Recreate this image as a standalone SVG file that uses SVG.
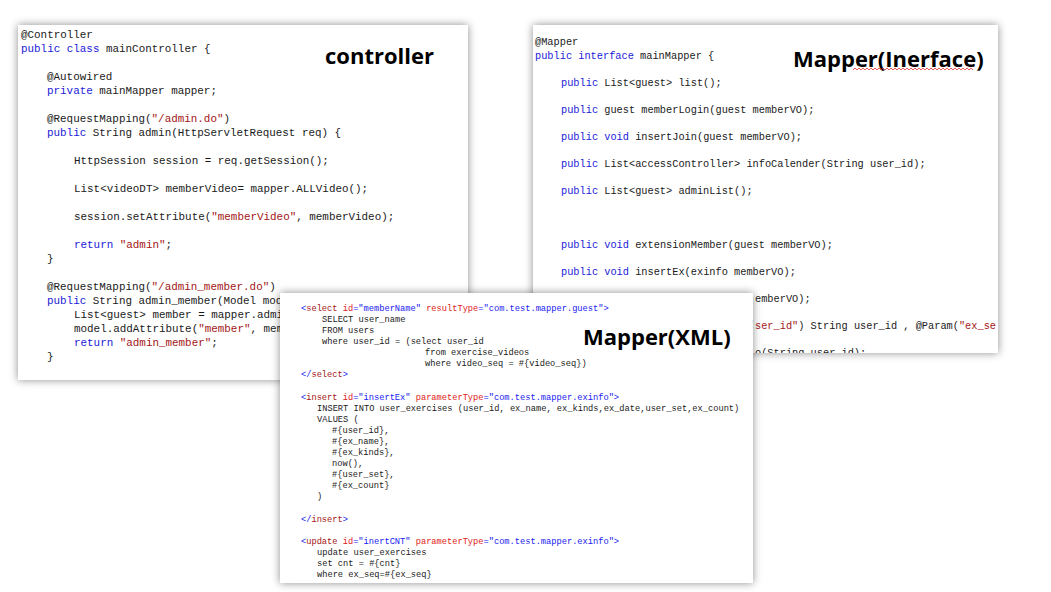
<svg xmlns="http://www.w3.org/2000/svg" width="1051" height="592" viewBox="0 0 1051 592">
<style>
.c{font-family:"Liberation Mono","DejaVu Sans Mono",monospace;fill:#1a1a1a}
.a{font-size:10.9px}.b{font-size:10.3px}.x{font-size:8.7px}
.k{fill:#1a1ad8}.s{fill:#a31515}.t{fill:#2020f0}.r{fill:#e02020}
.h{font-family:"Open Sans","Noto Sans",sans-serif;font-weight:bold;font-size:22px;fill:#000}
.p{fill:#fff;filter:url(#sh)}
</style>
<defs>
<filter id="sh" x="-10%" y="-10%" width="120%" height="120%"><feDropShadow dx="0" dy="0" stdDeviation="4" flood-color="#000" flood-opacity="0.45"/></filter>
<clipPath id="c1"><rect x="18" y="25" width="450" height="355"/></clipPath>
<clipPath id="c2"><rect x="533" y="25" width="465" height="328"/></clipPath>
<clipPath id="c3"><rect x="280" y="293" width="473" height="290"/></clipPath>
</defs>
<rect width="1051" height="592" fill="#fff"/>
<g id="controller">
<rect class="p" x="18" y="25" width="450" height="355"/>
<g clip-path="url(#c1)" class="c a">
<text x="21" y="38">@Controller</text>
<text x="21" y="52"><tspan class="k">public class</tspan> mainController {</text>
<text x="47" y="80">@Autowired</text>
<text x="47" y="94"><tspan class="k">private</tspan> mainMapper mapper;</text>
<text x="47" y="122">@RequestMapping(<tspan class="s">"/admin.do"</tspan>)</text>
<text x="47" y="136"><tspan class="k">public</tspan> String admin(HttpServletRequest req) {</text>
<text x="74" y="164">HttpSession session = req.getSession();</text>
<text x="74" y="192">List&lt;videoDT&gt; memberVideo= mapper.ALLVideo();</text>
<text x="74" y="220">session.setAttribute(<tspan class="s">"memberVideo"</tspan>, memberVideo);</text>
<text x="74" y="248"><tspan class="k">return</tspan> <tspan class="s">"admin"</tspan>;</text>
<text x="47" y="262">}</text>
<text x="47" y="290">@RequestMapping(<tspan class="s">"/admin_member.do"</tspan>)</text>
<text x="47" y="304"><tspan class="k">public</tspan> String admin_member(Model mod</text>
<text x="74" y="318">List&lt;guest&gt; member = mapper.admi</text>
<text x="74" y="332">model.addAttribute(<tspan class="s">"member"</tspan>, mem</text>
<text x="74" y="346"><tspan class="k">return</tspan> <tspan class="s">"admin_member"</tspan>;</text>
<text x="47" y="360">}</text>
</g>
<text class="h" x="325" y="64">controller</text>
</g>
<g id="mapper-interface">
<rect class="p" x="533" y="25" width="465" height="328"/>
<g clip-path="url(#c2)" class="c b">
<text x="535" y="45">@Mapper</text>
<text x="535" y="59"><tspan class="k">public interface</tspan> mainMapper {</text>
<text x="561" y="86"><tspan class="k">public</tspan> List&lt;guest&gt; list();</text>
<text x="561" y="113"><tspan class="k">public</tspan> guest memberLogin(guest memberVO);</text>
<text x="561" y="140"><tspan class="k">public void</tspan> insertJoin(guest memberVO);</text>
<text x="561" y="167"><tspan class="k">public</tspan> List&lt;accessController&gt; infoCalender(String user_id);</text>
<text x="561" y="194"><tspan class="k">public</tspan> List&lt;guest&gt; adminList();</text>
<text x="561" y="248"><tspan class="k">public void</tspan> extensionMember(guest memberVO);</text>
<text x="561" y="275"><tspan class="k">public void</tspan> insertEx(exinfo memberVO);</text>
<text x="755" y="302">emberVO);</text>
<text x="755" y="329"><tspan class="s">ser_id"</tspan>) String user_id , @Param(<tspan class="s">"ex_se</tspan></text>
<text x="755" y="356">o(String user_id);</text>
</g>
<text class="h" x="793" y="67">Mapper(Inerface)</text>
<path d="M853 70 l2 -2 l2 2 l2 -2 l2 2 l2 -2 l2 2 l2 -2 l2 2 l2 -2 l2 2 l2 -2 l2 2 l2 -2 l2 2 l2 -2 l2 2 l2 -2 l2 2 l2 -2 l2 2 l2 -2 l2 2 l2 -2 l2 2 l2 -2 l2 2 l2 -2 l2 2 l2 -2 l2 2 l2 -2 l2 2 l2 -2 l2 2 l2 -2 l2 2 l2 -2 l2 2 l2 -2 l2 2 l2 -2 l2 2 l2 -2 l2 2 l2 -2 l2 2 l2 -2 l2 2 l2 -2 l2 2 l2 -2 l2 2 l2 -2 l2 2 l2 -2 l2 2 l2 -2 l2 2 l2 -2 l2 2" fill="none" stroke="#e03030" stroke-width="0.8"/>
</g>
<g id="mapper-xml">
<rect class="p" x="280" y="293" width="473" height="290"/>
<g clip-path="url(#c3)" class="c x">
<text x="301" y="311"><tspan class="t">&lt;</tspan><tspan class="s">select</tspan> <tspan class="r">id</tspan><tspan class="t">="memberName"</tspan> <tspan class="r">resultType</tspan><tspan class="t">="com.test.mapper.guest"&gt;</tspan></text>
<text x="322" y="322">SELECT user_name</text>
<text x="322" y="333">FROM users</text>
<text x="322" y="344">where user_id = (select user_id</text>
<text x="425" y="355">from exercise_videos</text>
<text x="425" y="366">where video_seq = #{video_seq})</text>
<text x="301" y="377"><tspan class="t">&lt;/</tspan><tspan class="s">select</tspan><tspan class="t">&gt;</tspan></text>
<text x="301" y="400"><tspan class="t">&lt;</tspan><tspan class="s">insert</tspan> <tspan class="r">id</tspan><tspan class="t">="insertEx"</tspan> <tspan class="r">parameterType</tspan><tspan class="t">="com.test.mapper.exinfo"&gt;</tspan></text>
<text x="317" y="411">INSERT INTO user_exercises (user_id, ex_name, ex_kinds,ex_date,user_set,ex_count)</text>
<text x="317" y="422">VALUES (</text>
<text x="332" y="433">#{user_id},</text>
<text x="332" y="444">#{ex_name},</text>
<text x="332" y="455">#{ex_kinds},</text>
<text x="332" y="466">now(),</text>
<text x="332" y="477">#{user_set},</text>
<text x="332" y="488">#{ex_count}</text>
<text x="317" y="499">)</text>
<text x="301" y="522"><tspan class="t">&lt;/</tspan><tspan class="s">insert</tspan><tspan class="t">&gt;</tspan></text>
<text x="301" y="544"><tspan class="t">&lt;</tspan><tspan class="s">update</tspan> <tspan class="r">id</tspan><tspan class="t">="inertCNT"</tspan> <tspan class="r">parameterType</tspan><tspan class="t">="com.test.mapper.exinfo"&gt;</tspan></text>
<text x="317" y="555">update user_exercises</text>
<text x="317" y="566">set cnt = #{cnt}</text>
<text x="317" y="577">where ex_seq=#{ex_seq}</text>
</g>
<text class="h" x="583" y="345">Mapper(XML)</text>
</g>
<g id="connectors"/>
</svg>
